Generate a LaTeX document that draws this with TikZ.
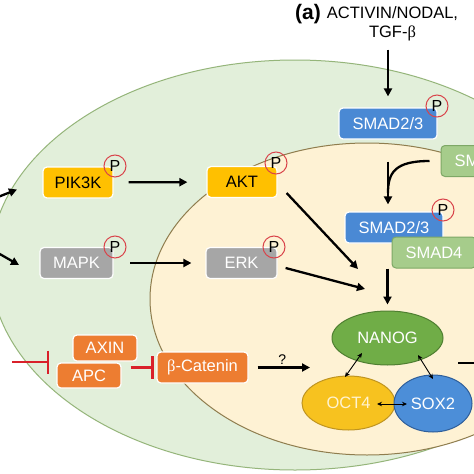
\documentclass[tikz,border=0pt]{standalone}
\usepackage{fontspec}
\setmainfont{Liberation Sans}
\newfontfamily\serifgr{Liberation Serif}
\usetikzlibrary{arrows.meta,shapes.geometric}
\definecolor{cellfill}{HTML}{E2EFDA}
\definecolor{cellline}{HTML}{95B57A}
\definecolor{nucfill}{HTML}{FEF2D4}
\definecolor{nucline}{HTML}{8F7D4E}
\definecolor{smadblue}{HTML}{4A89D4}
\definecolor{smadgreen}{HTML}{A6CC8B}
\definecolor{smadgreenline}{HTML}{7EA866}
\definecolor{akty}{HTML}{FFC000}
\definecolor{erkg}{HTML}{A6A6A6}
\definecolor{wntor}{HTML}{ED7D31}
\definecolor{nanogg}{HTML}{70AD47}
\definecolor{nanogline}{HTML}{4F7F31}
\definecolor{octy}{HTML}{F7C21F}
\definecolor{octline}{HTML}{BF9420}
\definecolor{octtext}{HTML}{FFF3D0}
\definecolor{soxb}{HTML}{4C8ED8}
\definecolor{soxline}{HTML}{2E5E9A}
\definecolor{inhred}{HTML}{D9202A}
\definecolor{pred}{HTML}{D9434A}
\begin{document}
\begin{tikzpicture}[x=1pt,y=-1pt,
  txt/.style={font=\fontsize{16.5}{19}\selectfont},
  box/.style={txt, rounded corners=4pt, draw=white, line width=1.2pt, inner sep=0pt, minimum height=31pt, align=center},
  pcirc/.style={circle, draw=pred, line width=1pt, minimum size=22pt, inner sep=0pt, font=\fontsize{16}{16}\selectfont},
  arr/.style={line width=2.3pt, -{Triangle[length=8pt,width=8pt]}},
  inh/.style={line width=2.5pt, draw=inhred, -{Bar[width=23pt]}},
  dbl/.style={line width=0.9pt, {Stealth[length=5pt,width=4.5pt]}-{Stealth[length=5pt,width=4.5pt]}},
  oval/.style={ellipse, txt, text=white, line width=1pt, inner sep=0pt},
]
\useasboundingbox (0,0) rectangle (474,474);
\clip (0,0) rectangle (474,474);
\fill[white] (0,0) rectangle (474,474);
% cell and nucleus
\draw[fill=cellfill, draw=cellline, line width=1pt] (295,265) ellipse [x radius=305, y radius=205];
\draw[fill=nucfill, draw=nucline, line width=1pt] (367,299) ellipse [x radius=217, y radius=156];
% title
\node[txt, inner sep=0pt, anchor=base] (tgf1) at (392.5,18.3) {ACTIVIN/NODAL,};
\node[txt, inner sep=0pt, anchor=base] (tgf2) at (392.5,37) {TGF-{\serifgr β}};
\node[font=\bfseries\fontsize{21}{21}\selectfont, inner sep=0pt, anchor=base] (lbl) at (308,19.5) {(a)};
% SMAD branch
\node[box, fill=smadblue, text=white, minimum width=98pt] (smad23a) at (388,123.5) {SMAD2/3};
\node[pcirc] (p1) at (437,106) {P};
\node[box, fill=smadgreen, draw=smadgreenline, line width=1pt, text=white, minimum width=84pt] (smad4a) at (483,161) {SMAD4};
\node[box, fill=smadblue, text=white, minimum width=98pt] (smad23b) at (394,227.5) {SMAD2/3};
\node[pcirc] (p2) at (443,210) {P};
\node[box, fill=smadgreen, draw=smadgreenline, line width=1pt, text=white, minimum width=84pt] (smad4b) at (434,252.5) {SMAD4};
% kinases
\node[box, fill=akty, minimum width=70pt] (pik) at (78,182.5) {PIK3K};
\node[pcirc] (p3) at (115,166) {P};
\node[box, fill=akty, minimum width=70pt] (akt) at (242,182) {AKT};
\node[pcirc] (p4) at (276,163) {P};
\node[box, fill=erkg, text=white, minimum width=73pt] (mapk) at (76.5,263) {MAPK};
\node[pcirc] (p5) at (115,247) {P};
\node[box, fill=erkg, text=white, minimum width=71pt] (erk) at (241.5,263) {ERK};
\node[pcirc] (p6) at (274,247) {P};
% WNT branch
\node[box, fill=wntor, text=white, minimum width=64pt, minimum height=26pt] (axin) at (105,348) {AXIN};
\node[box, fill=wntor, text=white, minimum width=64pt, minimum height=25pt] (apc) at (89,375.5) {APC};
\node[box, fill=wntor, text=white, minimum width=91pt, minimum height=31pt] (bcat) at (202.5,367.5) {{\serifgr β}-Catenin};
% core factors
\node[oval, fill=nanogg, draw=nanogline, minimum width=111pt, minimum height=54pt] (nanog) at (387.5,338) {NANOG};
\node[oval, fill=octy, draw=octline, text=octtext, minimum width=93pt, minimum height=54pt] (oct4) at (348.5,403) {OCT4};
\node[oval, fill=soxb, draw=soxline, minimum width=78pt, minimum height=57pt] (sox2) at (433,403.5) {SOX2};
% coordinates
\coordinate (join) at (388,193);
\coordinate (akttip) at (358,269);
\coordinate (erktip) at (365,289);
\coordinate (bcattip) at (310,367.5);
\coordinate (wntin) at (12,362);
\coordinate (inA) at (-2,197);
\coordinate (inAt) at (17,189.5);
\coordinate (inB) at (-2,253);
\coordinate (inBt) at (19,265);
\coordinate (outA) at (458,363);
\coordinate (outB) at (480,363);
\coordinate (no1) at (362,353);
\coordinate (no2) at (345,377);
\coordinate (ns1) at (418,355);
\coordinate (ns2) at (433,379);
\coordinate (os1) at (377,404);
\coordinate (os2) at (407,404);
% connectors
\draw[arr, shorten <=9pt, shorten >=11pt] (smad23a.north |- tgf2.south) -- (smad23a.north);
\draw[arr, shorten <=22pt, shorten >=7pt] (smad23a.south) -- (smad23a.south |- smad23b.north);
\draw[line width=2.3pt] ([xshift=-11pt]smad4a.west) .. controls +(-35,0) and +(0,-20) .. (join);
\draw[arr, shorten >=6pt] (nanog.north |- smad4b.south) -- (nanog.north);
\draw[arr, shorten <=15pt, shorten >=19pt] (pik) -- (akt);
\draw[arr, shorten <=16.5pt, shorten >=14pt] (mapk) -- (erk);
\draw[arr] ([xshift=9pt,yshift=-11pt]akt.east) -- (akttip);
\draw[arr] ([xshift=8pt,yshift=-5pt]erk.east) -- (erktip);
\draw[arr, shorten <=9pt] (bcat.east) -- (bcattip) node[pos=0.55, above=2pt, inner sep=0pt, font=\fontsize{14}{14}\selectfont] (q) {?};
\draw[inh, shorten >=7pt] (wntin) -- (wntin -| apc.west);
\draw[inh, shorten <=9pt, shorten >=2.5pt] (apc.east |- bcat.west) -- (bcat.west);
\draw[arr] (inA) -- (inAt);
\draw[arr] (inB) -- (inBt);
\draw[line width=2.3pt] (outA) -- (outB);
\draw[dbl] (no1) -- (no2);
\draw[dbl] (ns1) -- (ns2);
\draw[dbl] (os1) -- (os2);
\end{tikzpicture}
\end{document}
